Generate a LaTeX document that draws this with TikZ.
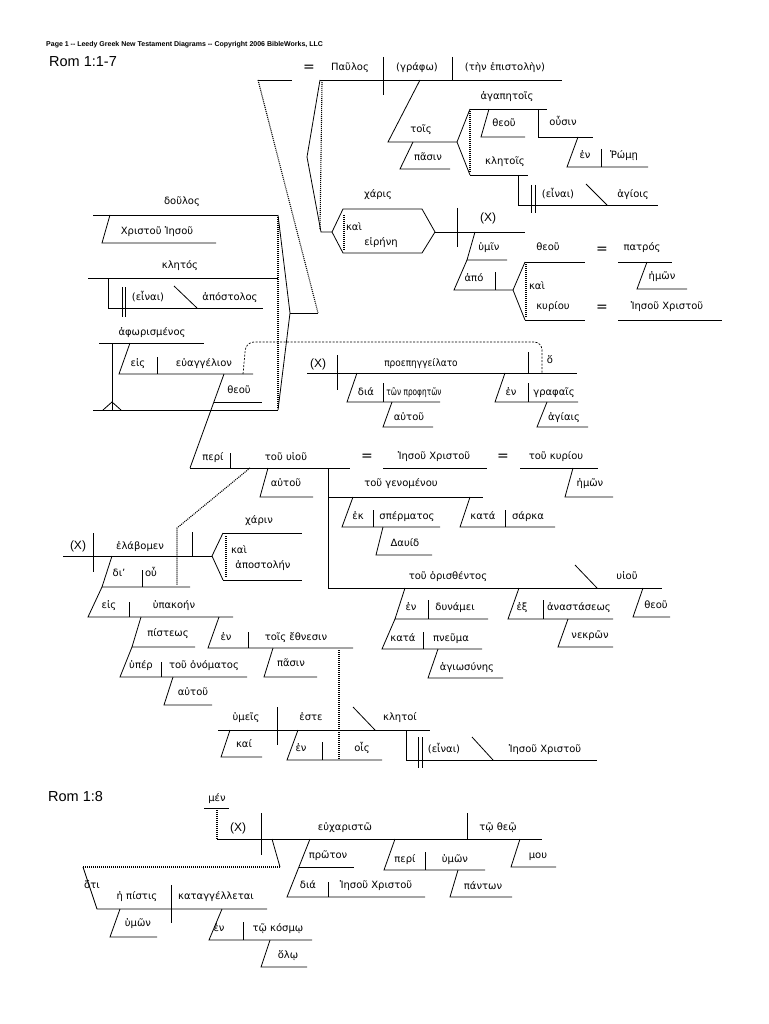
\documentclass[tikz,border=0pt]{standalone}
\usepackage{fontspec}
\usepackage{graphicx}
\newfontfamily\gk{DejaVu Sans}
\newfontfamily\ar{Liberation Sans}
\newcommand\Gw[5][10]{\node[g=#1] (#2) at (#3,#4) {#5};}
\newcommand\Aw[4]{\node[a] (#1) at (#2,#3) {#4};}
\newcommand\Ew[3]{\node[eqs] (#1) at (#2,#3) {=};}
\begin{document}
\begin{tikzpicture}[x=1pt,y=-1pt,
  ln/.style={line width=0.8pt},
  dt/.style={line width=1.1pt, dash pattern=on 1pt off 1pt},
  ds/.style={line width=0.7pt, dash pattern=on 2pt off 1.5pt},
  g/.style={font=\gk\fontsize{#1}{12}\selectfont, inner sep=0pt, anchor=base},
  a/.style={font=\ar\fontsize{12}{13}\selectfont, inner sep=0pt, anchor=base},
  eqs/.style={font=\gk\fontsize{14}{14}\selectfont, inner sep=0pt, anchor=base},
]
\useasboundingbox (0,0) rectangle (768,1024);
\fill[white] (0,0) rectangle (768,1024);

% header
\node[font=\ar\bfseries\fontsize{7}{8}\selectfont, inner sep=0pt, anchor=base west] (hdr) at (46,47) {Page 1 -- Leedy Greek New Testament Diagrams -- Copyright 2006 BibleWorks, LLC};
\node[font=\ar\fontsize{14.5}{16}\selectfont, inner sep=0pt, anchor=base west] (rom1) at (49,67) {Rom 1:1-7};
\node[font=\ar\fontsize{14.5}{16}\selectfont, inner sep=0pt, anchor=base west] (rom8) at (48,801) {Rom 1:8};

% ===== top main clause =====
\draw[ln] (258,80)--(292,80);
\draw[ln] (320,80)--(562,80);
\draw[ln] (383,57)--(383,95);
\draw[ln] (452,57)--(452,80);
\draw[ln] (420,80)--(388,142)--(457,142);
\draw[ln] (413,142)--(400,169)--(450,169);
\draw[ln] (470,109)--(457,142)--(470,175);
\draw[dt] (470,111)--(470,173);
\draw[ln] (470,109)--(547,109);
\draw[ln] (489,109)--(481,137)--(525,137);
\draw[ln] (538,109)--(538,137)--(593,137);
\draw[ln] (578,137)--(567,167)--(648,167);
\draw[ln] (601,149)--(601,167);
\draw[ln] (470,175)--(528,175);
\draw[ln] (518,175)--(518,205)--(658,205);
\draw[ln] (531,185)--(531,213) (535,185)--(535,213);
\draw[ln] (586,184)--(607,205);

\Ew{eqA}{309}{72}
\Gw{paulos}{350}{71}{Παῦλος}
\Gw{grapho}{417}{71}{(γράφω)}
\Gw{epist}{505}{71}{(τὴν ἐπιστολὴν)}
\Gw{tois}{421}{133}{τοῖς}
\Gw{pasin}{428}{161}{πᾶσιν}
\Gw{agap}{507}{100}{ἀγαπητοῖς}
\Gw{theouA}{504}{127}{θεοῦ}
\Gw{ousin}{563}{126}{οὖσιν}
\Gw{enA}{585}{159}{ἐν}
\Gw{romh}{624}{159}{Ῥώμῃ}
\Gw{klhtois}{505}{165}{κλητοῖς}
\Gw{einaiA}{558}{198}{(εἶναι)}
\Gw{hagiois}{633}{198}{ἁγίοις}

% ===== greeting =====
\draw[ln] (320,80)--(307,157)--(321,232)--(332,232);
\draw[dt] (322,82)--(320,230);
\draw[ln] (332,232)--(343,209)--(422,209)--(435,232)--(422,253)--(343,253)--cycle;
\draw[dt] (344,215)--(344,250);
\draw[ln] (435,232)--(525,232);
\draw[ln] (457,208)--(457,247);
\draw[ln] (475,232)--(467,260)--(507,260);
\draw[ln] (467,260)--(454,290)--(513,290);
\draw[ln] (495,272)--(495,290);
\draw[ln] (525,262)--(513,290)--(525,320);
\draw[dt] (526,264)--(526,318);
\draw[ln] (525,262)--(585,262);
\draw[ln] (618,262)--(672,262);
\draw[ln] (647,262)--(637,289)--(687,289);
\draw[ln] (525,320)--(585,320);
\draw[ln] (618,320)--(722,320);

\Gw{charis}{378}{198}{χάρις}
\Gw{kaiA}{354}{230}{καὶ}
\Gw{eirene}{381}{245}{εἰρήνη}
\Aw{xA}{488}{222}{(X)}
\Gw{hymin}{489}{250}{ὑμῖν}
\Gw{apo}{474}{281}{ἀπό}
\Gw{kaiB}{537}{289}{καὶ}
\Gw{theouB}{548}{251}{θεοῦ}
\Ew{eqB}{602}{253}
\Gw{patros}{642}{251}{πατρός}
\Gw{hemonA}{662}{279}{ἡμῶν}
\Gw{kyriou}{553}{309}{κυρίου}
\Ew{eqC}{602}{311}
\Gw{iesouA}{667}{309}{Ἰησοῦ Χριστοῦ}

% ===== left appositives =====
\draw[ln] (93,215)--(278,215);
\draw[ln] (110,215)--(102,243)--(216,243);
\draw[ln] (88,278)--(278,278);
\draw[ln] (108,278)--(108,308)--(263,308);
\draw[ln] (122,287)--(122,317) (125,287)--(125,317);
\draw[ln] (174,286)--(197,308);
\draw[ln] (99,343)--(204,343);
\draw[ln] (112,343)--(112,410);
\draw[ln] (103,410)--(112,402)--(121,410);
\draw[ln] (93,410)--(278,410);
\draw[ln] (130,343)--(119,374)--(253,374);
\draw[ln] (157,357)--(157,374);
\draw[ln] (224,374)--(190,468);
\draw[ln] (214,402)--(262,402);
\draw[ln] (278,215)--(290,313)--(278,410);
\draw[dt] (278,217)--(278,408);
\draw[ln] (290,313)--(318,313);
\draw[dt] (258,80)--(318,313);
\draw[ds, rounded corners=8pt] (243,374)--(246,342)--(542,342)--(542,373);

\Gw{doulos}{182}{205}{δοῦλος}
\Gw{christA}{157}{234}{Χριστοῦ Ἰησοῦ}
\Gw{kletos}{180}{268}{κλητός}
\Gw{einaiB}{148}{300}{(εἶναι)}
\Gw{apostolos}{230}{300}{ἀπόστολος}
\Gw{aphor}{152}{335}{ἀφωρισμένος}
\Gw{eis}{138}{366}{εἰς}
\Gw{euang}{204}{366}{εὐαγγέλιον}
\Gw{theouC}{239}{393}{θεοῦ}

% ===== proepangeilato =====
\draw[ln] (307,373)--(577,373);
\draw[ln] (337,355)--(337,390);
\draw[ln] (528,352)--(528,373);
\draw[ln] (357,373)--(347,402)--(440,402);
\draw[ln] (383,383)--(383,402);
\draw[ln] (392,402)--(383,427)--(433,427);
\draw[ln] (505,373)--(495,402)--(578,402);
\draw[ln] (528,383)--(528,402);
\draw[ln] (547,402)--(537,427)--(588,427);

\Aw{xB}{318}{367}{(X)}
\Gw{proep}{421}{366}{\scalebox{0.9}[1]{προεπηγγείλατο}}
\Gw{ho}{550}{363}{ὅ}
\Gw{dia}{366}{395}{διά}
\Gw{propheton}{414}{395}{\scalebox{0.74}[1]{τῶν προφητῶν}}
\Gw{autouA}{409}{420}{αὐτοῦ}
\Gw{enB}{511}{395}{ἐν}
\Gw{graphais}{554}{395}{γραφαῖς}
\Gw{hagiais}{564}{420}{ἁγίαις}

% ===== peri tou huiou =====
\draw[ln] (190,468)--(350,468);
\draw[ln] (230,453)--(230,468);
\draw[ln] (383,468)--(487,468);
\draw[ln] (520,468)--(598,468);
\draw[ln] (573,468)--(565,497)--(613,497);
\draw[ln] (268,468)--(260,497)--(313,497);
\draw[ln] (328,468)--(328,588)--(662,588);
\draw[ln] (328,497)--(483,497);
\draw[ln] (353,497)--(342,527)--(440,527);
\draw[ln] (373,510)--(373,527);
\draw[ln] (383,527)--(376,555)--(432,555);
\draw[ln] (470,497)--(460,527)--(555,527);
\draw[ln] (505,510)--(505,527);
\draw[dt] (250,468)--(177,528)--(177,585);

\Gw{peri}{213}{460}{περί}
\Gw{huiou}{286}{460}{τοῦ υἱοῦ}
\Ew{eqD}{367}{460}
\Gw{iesouB}{434}{459}{Ἰησοῦ Χριστοῦ}
\Ew{eqE}{503}{460}
\Gw{kyriouB}{556}{459}{τοῦ κυρίου}
\Gw{hemonB}{590}{486}{ἡμῶν}
\Gw{autouB}{286}{486}{αὐτοῦ}
\Gw{genom}{401}{486}{τοῦ γενομένου}
\Gw{ek}{358}{519}{ἐκ}
\Gw{spermatos}{407}{519}{σπέρματος}
\Gw{dauid}{405}{546}{Δαυίδ}
\Gw{kataA}{483}{519}{κατά}
\Gw{sarka}{528}{519}{σάρκα}

% ===== horisthentos =====
\draw[ln] (575,565)--(597,588);
\draw[ln] (643,588)--(633,617)--(670,617);
\draw[ln] (405,588)--(395,619)--(488,619);
\draw[ln] (428,600)--(428,619);
\draw[ln] (395,619)--(382,649)--(482,649);
\draw[ln] (423,632)--(423,649);
\draw[ln] (438,649)--(428,678)--(503,678);
\draw[ln] (519,588)--(508,619)--(613,619);
\draw[ln] (543,600)--(543,619);
\draw[ln] (568,619)--(558,647)--(613,647);

\Gw{horis}{448}{579}{τοῦ ὁρισθέντος}
\Gw{huiouB}{627}{579}{υἱοῦ}
\Gw{theouD}{656}{608}{θεοῦ}
\Gw{enC}{411}{610}{ἐν}
\Gw{dynamei}{455}{610}{δυνάμει}
\Gw{kataB}{403}{641}{κατά}
\Gw{pneuma}{451}{641}{πνεῦμα}
\Gw{hagiosynes}{467}{670}{ἁγιωσύνης}
\Gw{ex}{522}{610}{ἐξ}
\Gw{anast}{579}{610}{ἀναστάσεως}
\Gw{nekron}{590}{638}{νεκρῶν}

% ===== elabomen =====
\draw[ln] (63,556)--(212,556);
\draw[ln] (93,533)--(93,572);
\draw[ln] (192,532)--(192,556);
\draw[ln] (223,533)--(212,556)--(223,580);
\draw[ln] (223,533)--(302,533);
\draw[ln] (223,580)--(302,580);
\draw[dt] (226,536)--(226,577);
\draw[ln] (112,556)--(102,587)--(190,587);
\draw[ln] (142,570)--(142,587);
\draw[ln] (102,587)--(88,617)--(233,617);
\draw[ln] (129,602)--(129,617);
\draw[ln] (141,617)--(132,647)--(195,647);
\draw[ln] (132,647)--(120,677)--(247,677);
\draw[ln] (161,662)--(161,677);
\draw[ln] (173,677)--(164,705)--(212,705);
\draw[ln] (219,617)--(208,648)--(353,648);
\draw[ln] (248,632)--(248,648);
\draw[ln] (273,648)--(264,677)--(317,677);
\draw[dt] (339,650)--(339,760);

\Aw{xC}{78}{549}{(X)}
\Gw{elab}{140}{549}{ἐλάβομεν}
\Gw{charin}{259}{523}{χάριν}
\Gw{kaiC}{239}{553}{καὶ}
\Gw{apostolen}{263}{568}{ἀποστολήν}
\Gw{di}{119}{576}{δι’}
\Gw{hou}{151}{576}{οὗ}
\Gw{eisB}{109}{608}{εἰς}
\Gw{hypakoen}{174}{608}{ὑπακοήν}
\Gw{pisteos}{168}{636}{πίστεως}
\Gw{hyper}{141}{668}{ὑπέρ}
\Gw{onomatos}{204}{668}{τοῦ ὀνόματος}
\Gw{autouC}{193}{695}{αὐτοῦ}
\Gw{enD}{226}{640}{ἐν}
\Gw{ethnesin}{296}{640}{τοῖς ἔθνεσιν}
\Gw{pasinB}{291}{666}{πᾶσιν}

% ===== hymeis este =====
\draw[ln] (218,730)--(430,730);
\draw[ln] (277,707)--(277,745);
\draw[ln] (353,707)--(375,730);
\draw[ln] (230,730)--(221,757)--(262,757);
\draw[ln] (298,730)--(287,760)--(382,760);
\draw[ln] (322,742)--(322,760);
\draw[ln] (406,730)--(406,760)--(597,760);
\draw[ln] (418,737)--(418,768) (422,737)--(422,768);
\draw[ln] (472,737)--(493,760);

\Gw{hymeis}{246}{720}{ὑμεῖς}
\Gw{este}{311}{720}{ἐστε}
\Gw{kletoi}{400}{720}{κλητοί}
\Gw{kaiD}{244}{747}{καί}
\Gw{enE}{301}{751}{ἐν}
\Gw{hois}{362}{751}{οἷς}
\Gw{einaiC}{444}{752}{(εἶναι)}
\Gw{iesouC}{545}{752}{Ἰησοῦ Χριστοῦ}

% ===== Rom 1:8 =====
\draw[ln] (204,808)--(229,808);
\draw[dt] (217,810)--(217,839);
\draw[ln] (217,839)--(542,839);
\draw[ln] (261,813)--(261,855);
\draw[ln] (467,813)--(467,839);
\draw[ln] (520,839)--(511,867)--(556,867);
\draw[ln] (310,839)--(287,897)--(425,897);
\draw[ln] (299,867)--(354,867);
\draw[ln] (328,882)--(328,897);
\draw[ln] (395,839)--(384,870)--(485,870);
\draw[ln] (425,852)--(425,870);
\draw[ln] (458,870)--(450,897)--(512,897);
\draw[ln] (272,839)--(280,867);
\draw[dt] (280,867)--(83,867);
\draw[ln] (83,867)--(97,909)--(267,909);
\draw[ln] (171,885)--(171,923);
\draw[ln] (120,909)--(110,937)--(157,937);
\draw[ln] (222,909)--(209,940)--(312,940);
\draw[ln] (243,922)--(243,940);
\draw[ln] (270,940)--(261,967)--(307,967);

\Gw{men}{217}{801}{μέν}
\Aw{xD}{238}{831}{(X)}
\Gw{eucharisto}{345}{830}{εὐχαριστῶ}
\Gw{totheo}{498}{830}{τῷ θεῷ}
\Gw{mou}{538}{858}{μου}
\Gw{proton}{328}{858}{πρῶτον}
\Gw{periB}{405}{862}{περί}
\Gw{hymon}{455}{862}{ὑμῶν}
\Gw{panton}{483}{889}{πάντων}
\Gw{diaB}{308}{888}{διά}
\Gw{iesouD}{376}{888}{Ἰησοῦ Χριστοῦ}
\Gw{hoti}{92}{888}{ὅτι}
\Gw{pistis}{137}{899}{ἡ πίστις}
\Gw{katang}{216}{899}{καταγγέλλεται}
\Gw{hymonB}{138}{926}{ὑμῶν}
\Gw{enF}{219}{931}{ἐν}
\Gw{kosmo}{278}{931}{τῷ κόσμῳ}
\Gw{holo}{288}{958}{ὅλῳ}
\end{tikzpicture}
\end{document}
